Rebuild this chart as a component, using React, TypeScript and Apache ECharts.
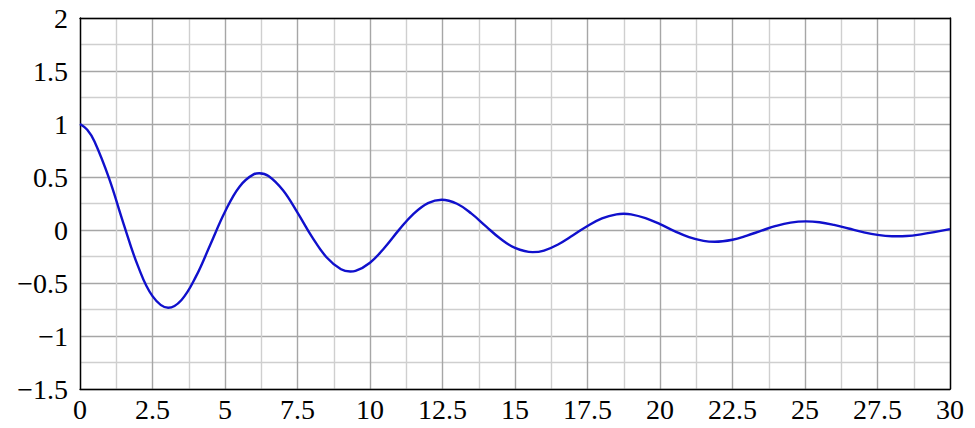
import React, { useEffect, useRef } from "react";
import * as echarts from "echarts";

const xValues = [
  0, 0.25, 0.5, 1, 1.5, 2, 2.5, 3.04, 3.5, 4, 4.5, 5, 5.5, 6, 6.18, 6.5, 7, 7.5, 8, 8.5, 9,
  9.32, 9.5, 10, 10.5, 11, 11.5, 12, 12.47, 13, 13.5, 14, 14.5, 15, 15.61, 16, 16.5,
  17, 17.5, 18, 18.5, 18.75, 19, 19.5, 20, 20.5, 21, 21.5, 21.89, 22.5, 23, 23.5, 24,
  24.5, 25.03, 25.5, 26, 26.5, 27, 27.5, 28, 28.17, 28.5, 29, 29.5, 30,
];
const yValues = [
  1.0, 0.945, 0.835, 0.489, 0.061, -0.341, -0.624, -0.734, -0.66, -0.438, -0.134, 0.172,
  0.409, 0.527, 0.536, 0.51, 0.375, 0.164, -0.065, -0.257, -0.371, -0.392, -0.386,
  -0.309, -0.167, 0.001, 0.153, 0.254, 0.286, 0.248, 0.154, 0.034, -0.083, -0.169,
  -0.209, -0.194, -0.134, -0.05, 0.038, 0.109, 0.148, 0.153, 0.148, 0.112, 0.055,
  -0.01, -0.067, -0.102, -0.111, -0.092, -0.053, -0.006, 0.039, 0.07, 0.081, 0.073,
  0.048, 0.014, -0.02, -0.046, -0.059, -0.0595, -0.057, -0.041, -0.018, 0.008,
];

const fmt = (v: number) => String(v).replace("-", "\u2212");

export default function App() {
  const ref = useRef<HTMLDivElement>(null);
  useEffect(() => {
    if (!ref.current) return;
    const chart = echarts.init(ref.current, null, { renderer: "svg" });
    const font = { fontFamily: "Liberation Serif", fontSize: 28, color: "#000" };
    const majorLine = { show: true, lineStyle: { color: "#a6a6a6", width: 1.4 } };
    const minorLine = { show: true, lineStyle: { color: "#cfcfcf", width: 1.4 } };
    const border = { show: true, onZero: false, lineStyle: { color: "#000", width: 1.4 } };
    chart.setOption({
      animation: false,
      backgroundColor: "#fff",
      grid: { left: 80, right: 25, top: 18, bottom: 39 },
      xAxis: [
        {
          type: "value",
          min: 0,
          max: 30,
          interval: 2.5,
          position: "bottom",
          axisLine: border,
          axisTick: { show: false },
          axisLabel: { ...font, margin: 6, formatter: fmt },
          splitLine: majorLine,
          minorTick: { show: false, splitNumber: 2 },
          minorSplitLine: minorLine,
        },
        {
          type: "value",
          min: 0,
          max: 30,
          position: "top",
          axisLine: border,
          axisTick: { show: false },
          axisLabel: { show: false },
          splitLine: { show: false },
        },
      ],
      yAxis: [
        {
          type: "value",
          min: -1.5,
          max: 2,
          interval: 0.5,
          position: "left",
          axisLine: border,
          axisTick: { show: false },
          axisLabel: { ...font, margin: 12, formatter: fmt },
          splitLine: majorLine,
          minorTick: { show: false, splitNumber: 2 },
          minorSplitLine: minorLine,
        },
        {
          type: "value",
          min: -1.5,
          max: 2,
          position: "right",
          axisLine: border,
          axisTick: { show: false },
          axisLabel: { show: false },
          splitLine: { show: false },
        },
      ],
      series: [
        {
          type: "line",
          data: xValues.map((x, i) => [x, yValues[i]]),
          smooth: 0.4,
          showSymbol: false,
          lineStyle: { color: "#1010cc", width: 2.4 },
          z: 5,
        },
      ],
    });
    return () => chart.dispose();
  }, []);
  return (
    <div
      ref={ref}
      style={{ position: "fixed", left: 0, top: 0, width: 975, height: 428, background: "#fff" }}
    />
  );
}
